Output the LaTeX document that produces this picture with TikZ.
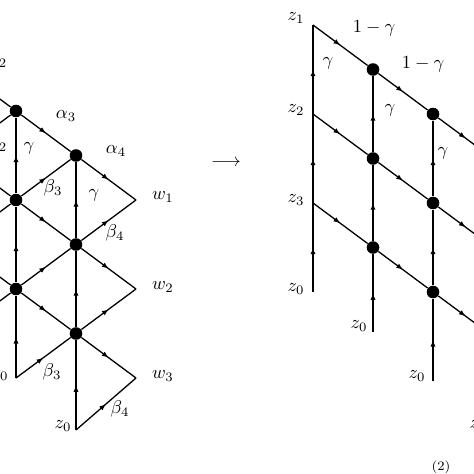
\documentclass[tikz,border=0pt]{standalone}
\usetikzlibrary{arrows.meta,decorations.markings}
\tikzset{
  dotn/.style={circle,fill=black,inner sep=0pt,minimum size=6.8pt},
  ln/.style={line width=0.7pt},
  marr/.style={ln,postaction={decorate},decoration={markings,mark=at position 0.5 with {\arrow{Latex[length=3.6pt,width=2.8pt]}}}},
  lbl/.style={inner sep=0pt}
}
\begin{document}
\begin{tikzpicture}[x=0.54pt,y=-0.54pt]
\useasboundingbox (0,0) rectangle (474,474);
\clip (0,0) rectangle (474,474);
% ---------- left lattice ----------
\coordinate (P0) at (-44,66.5);
\coordinate (P1) at (-44,155.5);
\coordinate (P2) at (-44,244.5);
\coordinate (P3) at (-44,333.5);
\node[dotn] (L11) at (16,111) {};
\node[dotn] (L12) at (16,200) {};
\node[dotn] (L13) at (16,289) {};
\coordinate (L14) at (16,378);
\node[dotn] (L21) at (76,155.5) {};
\node[dotn] (L22) at (76,244.5) {};
\node[dotn] (L23) at (76,333.5) {};
\coordinate (L24) at (76,430);
\coordinate (W1) at (136,200);
\coordinate (W2) at (136,289);
\coordinate (W3) at (136,378);
\draw[marr] (P0) -- (L11);
\draw[marr] (P1) -- (L11);
\draw[marr] (P1) -- (L12);
\draw[marr] (P2) -- (L12);
\draw[marr] (P2) -- (L13);
\draw[marr] (P3) -- (L13);
\draw[marr] (L14) -- (L13);
\draw[marr] (L13) -- (L12);
\draw[marr] (L12) -- (L11);
\draw[marr] (L24) -- (L23);
\draw[marr] (L23) -- (L22);
\draw[marr] (L22) -- (L21);
\draw[marr] (L11) -- (L21);
\draw[marr] (L12) -- (L21);
\draw[marr] (L12) -- (L22);
\draw[marr] (L13) -- (L22);
\draw[marr] (L13) -- (L23);
\draw[marr] (L14) -- (L23);
\draw[marr] (L21) -- (W1);
\draw[marr] (L22) -- (W1);
\draw[marr] (L22) -- (W2);
\draw[marr] (L23) -- (W2);
\draw[marr] (L23) -- (W3);
\draw[marr] (L24) -- (W3);
\node[lbl] (t2a) at (3,63) {$_2$};
\node[lbl] (t2b) at (3,147) {$_2$};
\node[lbl] (a3) at (66,116) {$\alpha_3$};
\node[lbl] (a4) at (116,151) {$\alpha_4$};
\node[lbl] (g1) at (29,148) {$\gamma$};
\node[lbl] (b3a) at (53,188) {$\beta_3$};
\node[lbl] (g2) at (94,195) {$\gamma$};
\node[lbl] (b4a) at (115,233) {$\beta_4$};
\node[lbl] (b3b) at (52,372) {$\beta_3$};
\node[lbl] (b4b) at (120,409) {$\beta_4$};
\node[lbl] (w1) at (163,197) {$w_1$};
\node[lbl] (w2) at (163,287) {$w_2$};
\node[lbl] (w3) at (163,376) {$w_3$};
\node[lbl] (zl0) at (0,375) {$z_0$};
\node[lbl] (zl1) at (63,426) {$z_0$};
% ---------- arrow between ----------
\node[lbl] (to) at (226,163) {$\longrightarrow$};
% ---------- right lattice ----------
\coordinate (Z1) at (313,25);
\coordinate (Z2) at (313,114);
\coordinate (Z3) at (313,203);
\coordinate (Z0) at (313,292);
\node[dotn] (R11) at (373,69.5) {};
\node[dotn] (R12) at (373,158.5) {};
\node[dotn] (R13) at (373,247.5) {};
\coordinate (R1b) at (373,332);
\node[dotn] (R21) at (433,114) {};
\node[dotn] (R22) at (433,203) {};
\node[dotn] (R23) at (433,292) {};
\coordinate (R2b) at (433,381);
\coordinate (E1) at (493,158.5);
\coordinate (E2) at (493,247.5);
\coordinate (E3) at (493,336.5);
\draw[marr] (Z0) -- (Z3);
\draw[marr] (Z3) -- (Z2);
\draw[marr] (Z2) -- (Z1);
\draw[marr] (R1b) -- (R13);
\draw[marr] (R13) -- (R12);
\draw[marr] (R12) -- (R11);
\draw[marr] (R2b) -- (R23);
\draw[marr] (R23) -- (R22);
\draw[marr] (R22) -- (R21);
\draw[marr] (Z1) -- (R11);
\draw[marr] (R11) -- (R21);
\draw[marr] (R21) -- (E1);
\draw[marr] (Z2) -- (R12);
\draw[marr] (R12) -- (R22);
\draw[marr] (R22) -- (E2);
\draw[marr] (Z3) -- (R13);
\draw[marr] (R13) -- (R23);
\draw[marr] (R23) -- (E3);
\node[lbl] (z1) at (296,18) {$z_1$};
\node[lbl] (z2) at (296,110) {$z_2$};
\node[lbl] (z3) at (296,200) {$z_3$};
\node[lbl] (z0a) at (296,289) {$z_0$};
\node[lbl] (z0b) at (359,326) {$z_0$};
\node[lbl] (z0c) at (417,376) {$z_0$};
\node[lbl] (z0d) at (478,426) {$z_0$};
\node[lbl] (omg1) at (374,28) {$1-\gamma$};
\node[lbl] (omg2) at (423,64) {$1-\gamma$};
\node[lbl] (rg1) at (328,63) {$\gamma$};
\node[lbl] (rg2) at (390,110) {$\gamma$};
\node[lbl] (rg3) at (443,153) {$\gamma$};
\node[lbl,font=\scriptsize] (cap) at (441,467) {(2)};
\end{tikzpicture}
\end{document}
